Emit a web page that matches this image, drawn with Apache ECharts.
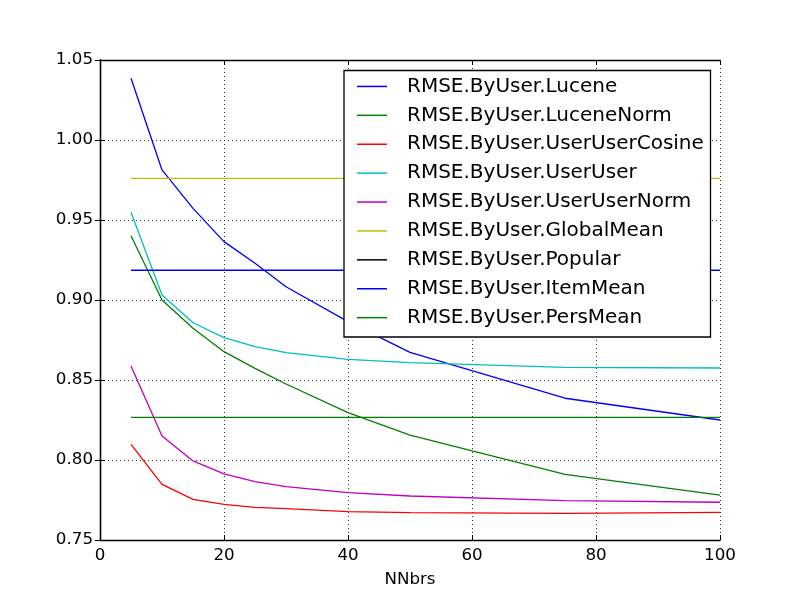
<!DOCTYPE html>
<html>
<head>
<meta charset="utf-8">
<script src="https://cdn.jsdelivr.net/npm/echarts@6/dist/echarts.min.js"></script>
<style>
  html, body { margin: 0; padding: 0; background: #fff; }
  #chart { width: 800px; height: 600px; }
</style>
</head>
<body>
<div id="chart"></div>
<script>
// neighbourhood sizes
var nnbrs = [5, 10, 15, 20, 25, 30, 40, 50, 75, 100];

// RMSE per algorithm
var lucene         = [1.0386, 0.9813, 0.9573, 0.9365, 0.9230, 0.9083, 0.8865, 0.8673, 0.8386, 0.8250];
var luceneNorm     = [0.9402, 0.9000, 0.8823, 0.8677, 0.8573, 0.8475, 0.8296, 0.8156, 0.7910, 0.7780];
var userUserCosine = [0.8098, 0.7848, 0.7754, 0.7723, 0.7704, 0.7696, 0.7677, 0.7671, 0.7667, 0.7673];
var userUser       = [0.9548, 0.9031, 0.8858, 0.8765, 0.8708, 0.8671, 0.8629, 0.8608, 0.8579, 0.8575];
var userUserNorm   = [0.8588, 0.8150, 0.7994, 0.7913, 0.7865, 0.7833, 0.7796, 0.7775, 0.7746, 0.7736];
var globalMean     = [0.976, 0.976, 0.976, 0.976, 0.976, 0.976, 0.976, 0.976, 0.976, 0.976];
var popular        = [];   // off the top of the plot
var itemMean       = [0.9186, 0.9186, 0.9186, 0.9186, 0.9186, 0.9186, 0.9186, 0.9186, 0.9186, 0.9186];
var persMean       = [0.8267, 0.8267, 0.8267, 0.8267, 0.8267, 0.8267, 0.8267, 0.8267, 0.8267, 0.8267];

var xTicks = [0, 20, 40, 60, 80, 100];
var yTicks = [0.75, 0.80, 0.85, 0.90, 0.95, 1.00, 1.05];

var names = ['RMSE.ByUser.Lucene', 'RMSE.ByUser.LuceneNorm', 'RMSE.ByUser.UserUserCosine',
  'RMSE.ByUser.UserUser', 'RMSE.ByUser.UserUserNorm', 'RMSE.ByUser.GlobalMean',
  'RMSE.ByUser.Popular', 'RMSE.ByUser.ItemMean', 'RMSE.ByUser.PersMean'];
var values = [lucene, luceneNorm, userUserCosine, userUser, userUserNorm, globalMean, popular, itemMean, persMean];
var colors = ['#0000ff', '#008000', '#ff0000', '#00bfbf', '#bf00bf', '#bfbf00', '#000000', '#0000ff', '#008000'];

var font = 'DejaVu Sans';
var fs = 16.7;   // tick labels
var legendFs = 20;

function pairs(ys) {
  return ys.map(function (v, i) { return [nnbrs[i], v]; });
}

var series = names.map(function (n, i) {
  return {
    name: n,
    type: 'line',
    data: pairs(values[i]),
    showSymbol: false,
    symbol: 'none',
    animation: false,
    clip: true,
    color: colors[i],
    lineStyle: { color: colors[i], width: 1.3 },
    z: 3
  };
});

var frameAxis = {
  axisLine: { show: true, lineStyle: { color: '#000', width: 1.3 } },
  axisTick: { show: true, inside: true, length: 5, lineStyle: { color: '#000', width: 1 } },
  axisLabel: { show: false },
  splitLine: { show: false }
};

var chart = echarts.init(document.getElementById('chart'), null, { renderer: 'canvas' });
chart.setOption({
  backgroundColor: '#ffffff',
  animation: false,
  textStyle: { fontFamily: font },
  grid: { left: 100, top: 60, width: 620, height: 480, containLabel: false },
  xAxis: [
    Object.assign({
      type: 'value', min: xTicks[0], max: xTicks[xTicks.length - 1], interval: 20,
      position: 'bottom',
      name: 'NNbrs', nameLocation: 'middle', nameGap: 31,
      nameTextStyle: { color: '#000', fontSize: fs, fontFamily: font }
    }, frameAxis, {
      axisLabel: { show: true, color: '#000', fontSize: fs, fontFamily: font, margin: 7 },
      splitLine: { show: true, lineStyle: { color: '#000', width: 0.8, type: [1, 3] } }
    }),
    Object.assign({
      type: 'value', min: xTicks[0], max: xTicks[xTicks.length - 1], interval: 20, position: 'top'
    }, frameAxis)
  ],
  yAxis: [
    Object.assign({
      type: 'value', min: yTicks[0], max: yTicks[yTicks.length - 1], interval: 0.05, position: 'left'
    }, frameAxis, {
      axisLabel: {
        show: true, color: '#000', fontSize: fs, fontFamily: font, margin: 7,
        formatter: function (v) { return v.toFixed(2); }
      },
      splitLine: { show: true, lineStyle: { color: '#000', width: 0.8, type: [1, 3] } }
    }),
    Object.assign({
      type: 'value', min: yTicks[0], max: yTicks[yTicks.length - 1], interval: 0.05, position: 'right'
    }, frameAxis)
  ],
  legend: {
    orient: 'vertical',
    left: 357,
    top: 72,
    padding: 0,
    itemGap: 0,
    itemWidth: 30,
    itemHeight: 1.5,
    icon: 'rect',
    data: names,
    textStyle: {
      color: '#000', fontSize: legendFs, fontFamily: font,
      lineHeight: 28.9, padding: [0, 0, 0, 15]
    },
    z: 10
  },
  graphic: [{
    type: 'rect',
    shape: { x: 344, y: 70.5, width: 366.5, height: 266.5 },
    style: { fill: '#fff', stroke: '#000', lineWidth: 1.3 },
    z: 5
  }],
  series: series
});
</script>
</body>
</html>
